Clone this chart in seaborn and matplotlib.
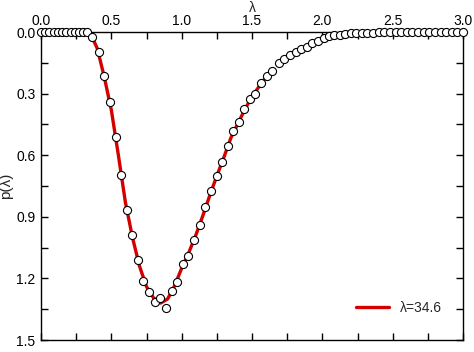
import matplotlib
matplotlib.use("Agg")
import matplotlib.pyplot as plt
import seaborn as sns
import pandas as pd
from matplotlib.ticker import MultipleLocator, FormatStrFormatter

# measured points (open circles)
lam_pts = [0.00, 0.03, 0.06, 0.09, 0.12, 0.15, 0.18, 0.21, 0.24, 0.27, 0.30, 0.33,
           0.364, 0.410, 0.447, 0.490, 0.531, 0.568, 0.608, 0.646, 0.689, 0.727,
           0.769, 0.807, 0.847, 0.888, 0.928, 0.966, 1.006, 1.046, 1.087, 1.127,
           1.167, 1.207, 1.248, 1.288, 1.326, 1.364, 1.406, 1.444, 1.484, 1.524,
           1.562, 1.605, 1.645, 1.688, 1.728, 1.771, 1.811, 1.849, 1.889, 1.927,
           1.967, 2.008, 2.045, 2.086, 2.126, 2.164, 2.20, 2.24, 2.28, 2.32, 2.36,
           2.40, 2.44, 2.48, 2.52, 2.56, 2.60, 2.64, 2.68, 2.72, 2.76, 2.80, 2.84,
           2.88, 2.92, 2.96, 3.00]
p_pts = [0.0, 0.0, 0.0, 0.0, 0.0, 0.0, 0.0, 0.0, 0.0, 0.0, 0.0, 0.0,
         0.023, 0.098, 0.213, 0.343, 0.511, 0.698, 0.866, 0.989, 1.111, 1.214,
         1.266, 1.315, 1.294, 1.345, 1.261, 1.216, 1.132, 1.092, 1.011, 0.938,
         0.853, 0.776, 0.699, 0.635, 0.555, 0.483, 0.439, 0.376, 0.325, 0.301,
         0.247, 0.213, 0.189, 0.151, 0.133, 0.111, 0.096, 0.081, 0.072, 0.055,
         0.044, 0.031, 0.020, 0.015, 0.013, 0.008, 0.006, 0.005, 0.004, 0.003, 0.003,
         0.002, 0.002, 0.001, 0.001, 0.001, 0.0, 0.0, 0.0, 0.0, 0.0, 0.0, 0.0,
         0.0, 0.0, 0.0, 0.0]

# fitted curve (red line)
lam_fit = [0.33, 0.36, 0.40, 0.45, 0.50, 0.55, 0.60, 0.65, 0.70, 0.75, 0.80, 0.85,
           0.90, 0.95, 1.00, 1.05, 1.10, 1.15, 1.20, 1.25, 1.30, 1.35, 1.40, 1.45,
           1.50, 1.55, 1.60, 1.65]
p_fit = [0.0, 0.02, 0.08, 0.22, 0.38, 0.60, 0.83, 1.00, 1.14, 1.24, 1.295, 1.32,
         1.30, 1.235, 1.15, 1.075, 0.99, 0.895, 0.795, 0.70, 0.61, 0.515, 0.445, 0.375,
         0.315, 0.265, 0.22, 0.185]

label = "λ=34.6"

sns.set_style("ticks")
plt.rcParams['font.family'] = ['Liberation Sans', 'DejaVu Sans']

pts_df = pd.DataFrame({'lam': lam_pts, 'p': p_pts})
fit_df = pd.DataFrame({'lam': lam_fit, 'p': p_fit})

fig = plt.figure(figsize=(4.74, 3.52), dpi=100)
ax = fig.add_axes([0.0865, 0.034, 0.8905, 0.875])

sns.lineplot(x='lam', y='p', data=fit_df, ax=ax, color='#d40000', linewidth=2.4,
             label=label, zorder=2)
sns.scatterplot(x='lam', y='p', data=pts_df, ax=ax, marker='o', s=34,
                facecolor='white', edgecolor='black', linewidth=0.8,
                zorder=3, clip_on=False, legend=False)

ax.set_xlim(0, 3.0)
ax.set_ylim(1.5, 0.0)
ax.xaxis.set_major_locator(MultipleLocator(0.5))
ax.xaxis.set_minor_locator(MultipleLocator(0.25))
ax.yaxis.set_major_locator(MultipleLocator(0.3))
ax.yaxis.set_minor_locator(MultipleLocator(0.15))
ax.xaxis.set_major_formatter(FormatStrFormatter('%.1f'))
ax.yaxis.set_major_formatter(FormatStrFormatter('%.1f'))
ax.xaxis.tick_top()
ax.xaxis.set_label_position('top')
ax.tick_params(which='both', direction='in', top=True, bottom=True, left=True,
               right=True, labelbottom=False, labelright=False, labelsize=10,
               width=1, colors='black')
ax.tick_params(which='major', length=5, pad=4)
ax.tick_params(which='minor', length=5)
ax.tick_params(axis='x', pad=3)
for s in ax.spines.values():
    s.set_linewidth(1)
    s.set_color('black')

ax.set_xlabel('λ', fontsize=10, labelpad=0)
ax.xaxis.set_label_coords(0.5, 1.064)
ax.set_ylabel('p(λ)', fontsize=11, labelpad=2)

leg = ax.legend(loc='lower right', frameon=False, fontsize=10, handlelength=2.4,
                bbox_to_anchor=(0.98, 0.04))

fig.savefig('out.png', dpi=100)
